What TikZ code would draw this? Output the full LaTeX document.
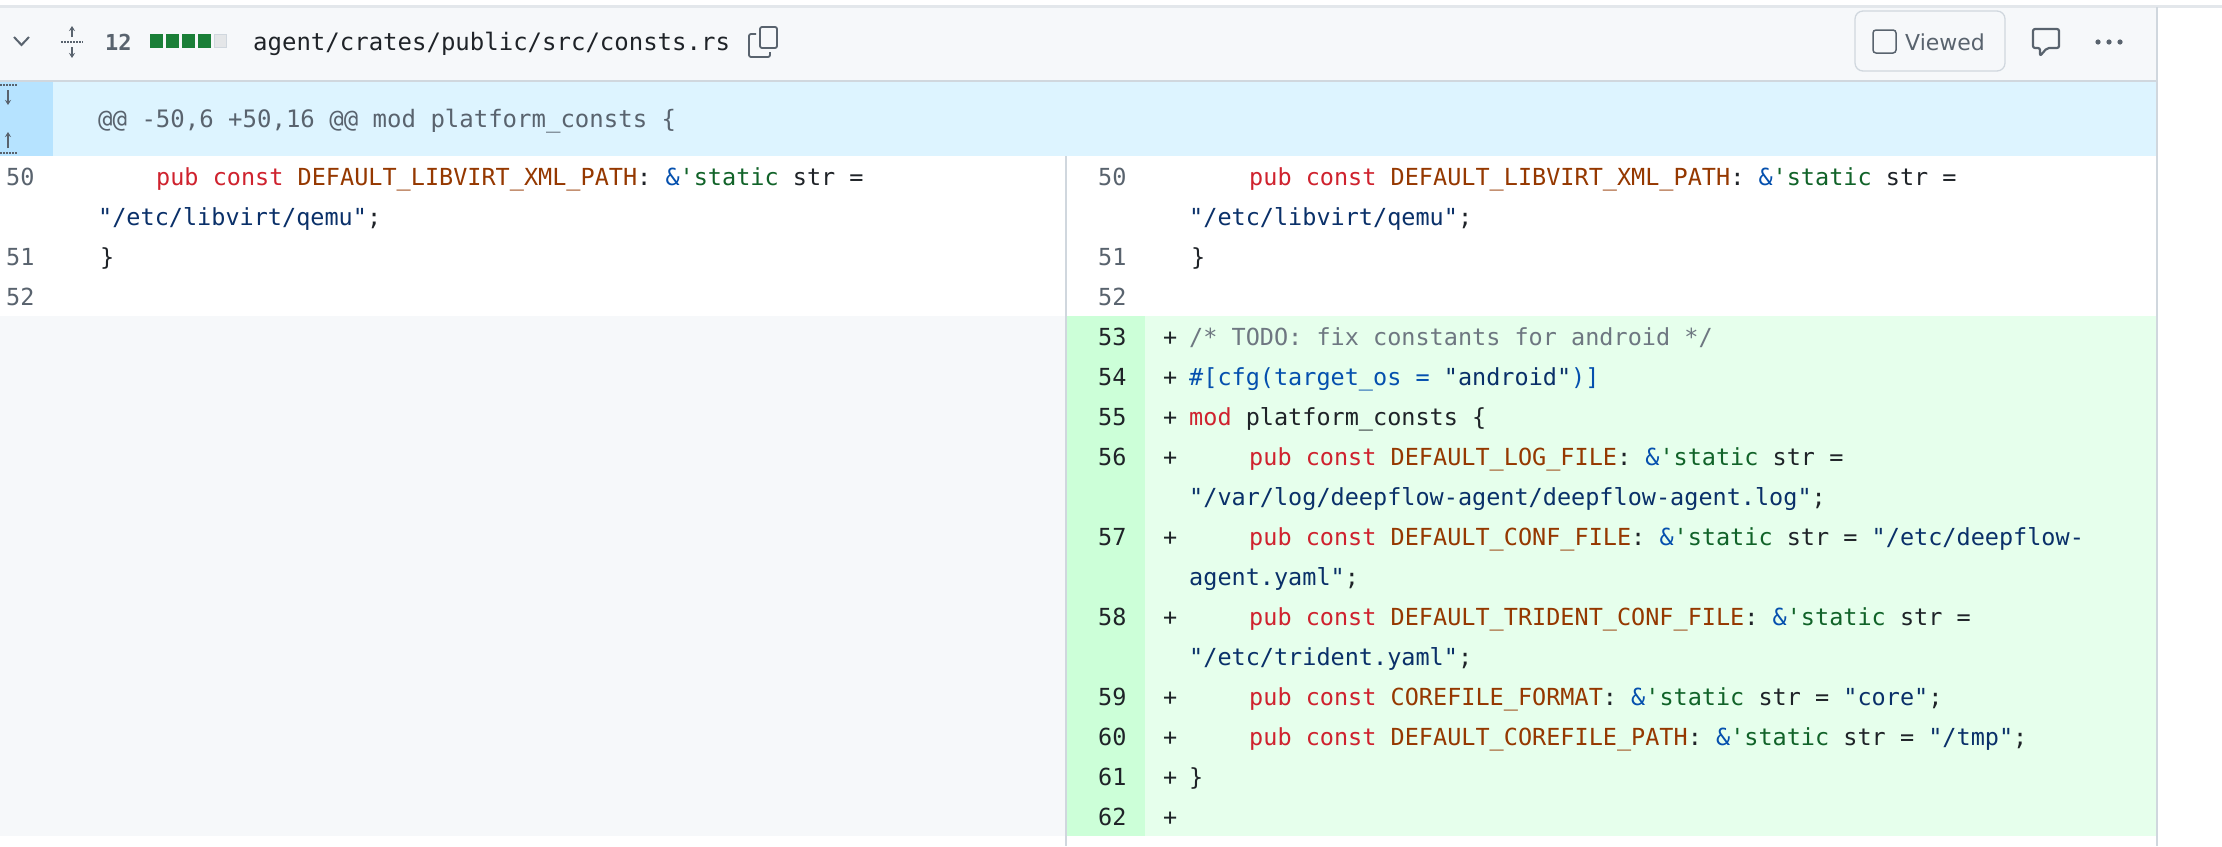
\documentclass[tikz,border=0pt]{standalone}
\usepackage{fontspec}
\usetikzlibrary{arrows.meta}
\setmainfont{DejaVu Sans}
\newfontfamily\code{DejaVu Sans Mono}
\newfontfamily\codeb{DejaVu Sans Mono Bold}
\definecolor{hdrbg}{HTML}{F6F8FA}
\definecolor{bord}{HTML}{D0D7DE}
\definecolor{hunkbg}{HTML}{DDF4FF}
\definecolor{hunkgut}{HTML}{B6E3FF}
\definecolor{addbg}{HTML}{E6FFEC}
\definecolor{addgut}{HTML}{CCFFD8}
\definecolor{kwc}{HTML}{CF222E}
\definecolor{cnc}{HTML}{953800}
\definecolor{stc}{HTML}{0A3069}
\definecolor{amc}{HTML}{0550AE}
\definecolor{ltc}{HTML}{116329}
\definecolor{cmc}{HTML}{6E7781}
\definecolor{numc}{HTML}{59636E}
\definecolor{txt}{HTML}{1F2328}
\definecolor{grn}{HTML}{1A7F37}
\newcommand\kw[1]{\textcolor{kwc}{#1}}
\newcommand\cn[1]{\textcolor{cnc}{#1}}
\newcommand\stt[1]{\textcolor{stc}{#1}}
\newcommand\am{\textcolor{amc}{\&}}
\newcommand\lt{\textcolor{ltc}{'static}}
\newcommand\pc[1]{\kw{pub const }\cn{#1}: \am\lt{} str =}
\begin{document}
\begin{tikzpicture}[x=1pt,y=-1pt,
  c/.style={anchor=base west,inner sep=0pt,font=\code\fontsize{23.5}{26}\selectfont,text=txt},
  ln/.style={c,text=numc},
  lnd/.style={c,text=txt},
  tip/.style={-{Stealth[length=5pt,width=6pt]}}]
\useasboundingbox (0,0) rectangle (2222,846);
\fill[white] (0,0) rectangle (2222,846);
% header
\fill[hdrbg] (0,7) rectangle (2157,81);
\fill[bord!60] (0,5) rectangle (2222,8);
\draw[bord,line width=1.5] (0,81) -- (2157,81);
\draw[bord,line width=1.5] (2157,7) -- (2157,846);
\fill[hunkbg] (0,82) rectangle (2156,156);
\fill[hunkgut] (0,82) rectangle (53,156);
% chevron
\draw[numc,line width=2] (14,37) -- (21.5,45) -- (29,37);
% expand icon
\draw[numc,line width=1.5,dash pattern=on 1.5pt off 1.5pt] (61,42) -- (83,42);
\draw[numc,line width=1.6,tip] (72,37) -- (72,26);
\draw[numc,line width=1.6,tip] (72,47) -- (72,58);
\node[anchor=base west,inner sep=0pt,font=\codeb\fontsize{22}{24}\selectfont,text=numc] (cnt) at (105,50) {12};
\foreach \i in {0,1,2,3} \fill[grn] (150+\i*16,34) rectangle +(13,14);
\draw[bord,fill=hdrbg!85!gray] (214.5,34.5) rectangle +(12,13);
\node[c,font=\code\fontsize{24}{26}\selectfont] (fname) at (253,50) {agent/crates/public/src/consts.rs};
% copy icon
\draw[numc,line width=1.8,rounded corners=2] (760,27) rectangle (777,48);
\draw[numc,line width=1.8,rounded corners=2] (756,34) -- (749,34) -- (749,57) -- (770,57) -- (770,52);
% viewed button
\draw[bord,line width=1.3,rounded corners=8] (1855,11) rectangle (2005,71);
\draw[numc,line width=1.5,rounded corners=3] (1873,30) rectangle (1896,53);
\node[anchor=base west,inner sep=0pt,font=\fontsize{22}{24}\selectfont,text=numc] (viewed) at (1905,50) {Viewed};
% comment icon
\draw[numc,line width=2.2,rounded corners=2,line join=round] (2033,29) -- (2059,29) -- (2059,48) -- (2047,48) -- (2040,56) -- (2040,48) -- (2033,48) -- cycle;
\foreach \i in {0,1,2} \fill[numc] (2098+\i*11,42) circle (2.6);
% hunk gutter arrows
\draw[numc,line width=1.2,dash pattern=on 1.5pt off 1.5pt] (0,85) -- (18,85);
\draw[numc,line width=1.2,dash pattern=on 1.5pt off 1.5pt] (0,153) -- (18,153);
\draw[numc,line width=1.4,tip] (8,90) -- (8,105);
\draw[numc,line width=1.4,tip] (8,148) -- (8,132);
\node[c,font=\code\fontsize{24}{26}\selectfont,text=numc] (hunk) at (98,127) {@@ -50,6 +50,16 @@ mod platform\_consts \{};
% body backgrounds
\fill[hdrbg] (0,316) rectangle (1066,836);
\fill[addbg] (1066,316) rectangle (2156,836);
\fill[addgut] (1066,316) rectangle (1145,836);
\draw[bord,line width=1.5] (1066,156) -- (1066,846);
% left side
\node[ln] (l50) at (6,185) {50};
\node[c] (lc50) at (156,185) {\pc{DEFAULT\_LIBVIRT\_XML\_PATH}};
\node[c] (lc50b) at (98,225) {\stt{"/etc/libvirt/qemu"};};
\node[ln] (l51) at (6,265) {51};
\node[c] (lc51) at (100,265) {\}};
\node[ln] (l52) at (6,305) {52};
% right side unchanged
\node[ln] (r50) at (1098,185) {50};
\node[c] (rc50) at (1249,185) {\pc{DEFAULT\_LIBVIRT\_XML\_PATH}};
\node[c] (rc50b) at (1189,225) {\stt{"/etc/libvirt/qemu"};};
\node[ln] (r51) at (1098,265) {51};
\node[c] (rc51) at (1191,265) {\}};
\node[ln] (r52) at (1098,305) {52};
% added lines
\foreach \n/\y in {53/345,54/385,55/425,56/465,57/545,58/625,59/705,60/745,61/785,62/825}{
  \node[lnd] (rn\n) at (1098,\y) {\n};
  \node[c] (rp\n) at (1163,\y) {+};
}
\node[c] (a53) at (1189,345) {\textcolor{cmc}{/* TODO: fix constants for android */}};
\node[c] (a54) at (1189,385) {\textcolor{amc}{\#[cfg(target\_os = }\stt{"android"}\textcolor{amc}{)]}};
\node[c] (a55) at (1189,425) {\kw{mod} platform\_consts \{};
\node[c] (a56) at (1249,465) {\pc{DEFAULT\_LOG\_FILE}};
\node[c] (a56b) at (1189,505) {\stt{"/var/log/deepflow-agent/deepflow-agent.log"};};
\node[c] (a57) at (1249,545) {\pc{DEFAULT\_CONF\_FILE} \stt{"/etc/deepflow-}};
\node[c] (a57b) at (1189,585) {\stt{agent.yaml"};};
\node[c] (a58) at (1249,625) {\pc{DEFAULT\_TRIDENT\_CONF\_FILE}};
\node[c] (a58b) at (1189,665) {\stt{"/etc/trident.yaml"};};
\node[c] (a59) at (1249,705) {\pc{COREFILE\_FORMAT} \stt{"core"};};
\node[c] (a60) at (1249,745) {\pc{DEFAULT\_COREFILE\_PATH} \stt{"/tmp"};};
\node[c] (a61) at (1189,785) {\}};
% cut-off bottom row
\begin{scope}
\clip (0,836) rectangle (2156,846);
\node[ln] (l53) at (6,865) {53};
\node[c] (lc53) at (98,865) {\textcolor{amc}{\#[cfg(target\_os = }\stt{"windows"}\textcolor{amc}{)]}};
\node[ln] (r63) at (1098,865) {63};
\node[c] (rc63) at (1189,865) {\textcolor{amc}{\#[cfg(target\_os = }\stt{"windows"}\textcolor{amc}{)]}};
\end{scope}
\end{tikzpicture}
\end{document}
